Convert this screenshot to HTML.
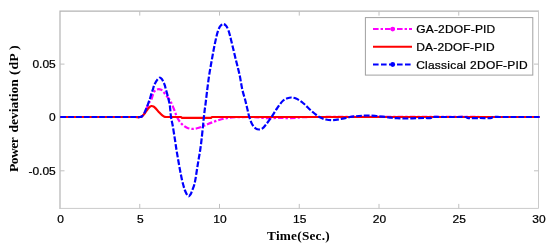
<!DOCTYPE html>
<html><head><meta charset="utf-8"><title>Power deviation</title>
<style>
html,body{margin:0;padding:0;background:#fff;}
body{width:550px;height:249px;overflow:hidden;}
svg{display:block;}
.tk{font-family:"Liberation Sans",Arial,sans-serif;font-size:12px;fill:#000;stroke:#000;stroke-width:0.25px;}
.lg{font-size:12px;letter-spacing:0.18px;}
.lb{font-family:"Liberation Serif","Times New Roman",serif;font-weight:bold;font-size:13.7px;fill:#000;}
</style></head><body>
<svg width="550" height="249" viewBox="0 0 550 249">
<rect width="550" height="249" fill="#fff"/>
<g stroke="#b4b4b4" stroke-width="1.2" fill="none">
<path d="M60.0 208.9 V11.1 H539.0"/>
<path d="M60.0 208.4 H538.5 V11.1" stroke-width="1" stroke="#cacaca"/>
<g stroke-width="1" stroke="#c0c0c0"><line x1="139.75" y1="208.40" x2="139.75" y2="203.90"/><line x1="139.75" y1="11.10" x2="139.75" y2="15.60"/><line x1="219.50" y1="208.40" x2="219.50" y2="203.90"/><line x1="219.50" y1="11.10" x2="219.50" y2="15.60"/><line x1="299.25" y1="208.40" x2="299.25" y2="203.90"/><line x1="299.25" y1="11.10" x2="299.25" y2="15.60"/><line x1="379.00" y1="208.40" x2="379.00" y2="203.90"/><line x1="379.00" y1="11.10" x2="379.00" y2="15.60"/><line x1="458.75" y1="208.40" x2="458.75" y2="203.90"/><line x1="458.75" y1="11.10" x2="458.75" y2="15.60"/><line x1="60.00" y1="64.10" x2="64.50" y2="64.10"/><line x1="538.50" y1="64.10" x2="534.00" y2="64.10"/><line x1="60.00" y1="117.40" x2="64.50" y2="117.40"/><line x1="538.50" y1="117.40" x2="534.00" y2="117.40"/><line x1="60.00" y1="170.80" x2="64.50" y2="170.80"/><line x1="538.50" y1="170.80" x2="534.00" y2="170.80"/></g>
</g>
<g fill="none" stroke-width="2.2" stroke-linejoin="round">
<path d="M60.30 117.00 C73.53 117.00 87.18 117.00 100.00 117.00 C112.03 117.00 128.60 117.00 135.00 117.00 C137.42 117.00 138.82 117.12 140.00 117.00 C140.65 116.94 140.99 116.99 141.50 116.70 C142.30 116.25 143.36 115.00 144.00 114.00 C144.62 113.03 144.82 111.89 145.30 110.80 C145.81 109.63 146.42 108.46 147.00 107.20 C147.64 105.81 148.24 104.09 149.00 102.80 C149.66 101.67 150.59 100.96 151.20 99.80 C151.90 98.47 152.30 96.59 152.80 95.20 C153.22 94.03 153.43 92.91 154.00 92.00 C154.52 91.16 155.21 90.37 156.00 89.90 C156.78 89.44 157.82 89.21 158.70 89.20 C159.55 89.19 160.48 89.44 161.20 89.80 C161.87 90.13 162.30 90.58 162.90 91.20 C163.76 92.09 164.81 93.67 165.70 94.80 C166.50 95.82 167.26 96.74 168.00 97.70 C168.72 98.64 169.51 99.54 170.10 100.50 C170.66 101.41 170.97 102.14 171.50 103.30 C172.34 105.13 173.56 108.16 174.50 110.50 C175.39 112.72 176.03 115.01 177.00 117.00 C177.89 118.82 178.92 120.57 180.00 122.00 C180.94 123.24 181.86 124.25 183.00 125.20 C184.19 126.19 185.53 127.19 187.00 127.80 C188.52 128.44 190.33 128.82 192.00 128.90 C193.66 128.98 195.28 128.70 197.00 128.30 C198.93 127.85 201.10 126.95 203.00 126.20 C204.76 125.51 206.31 124.70 208.00 124.00 C209.71 123.30 211.41 122.65 213.20 122.00 C215.07 121.32 217.04 120.58 219.00 120.00 C220.97 119.42 222.91 118.91 225.00 118.50 C227.23 118.06 229.58 117.73 232.00 117.50 C234.57 117.25 237.18 117.18 240.00 117.10 C243.15 117.01 246.85 116.96 250.00 117.00 C252.82 117.04 255.80 117.09 258.00 117.30 C259.57 117.45 260.18 117.76 262.00 117.90 C265.84 118.20 274.18 118.00 280.00 118.00 C285.49 118.00 291.95 118.15 296.00 117.90 C298.49 117.75 299.46 117.36 302.00 117.20 C306.39 116.92 310.67 117.05 320.00 117.00 C352.58 116.82 466.33 117.00 539.50 117.00" stroke="#ff00ff" stroke-dasharray="5.6 2 2.4 2" stroke-dashoffset="6.8"/>
<path d="M60.30 117.00 C73.53 117.00 87.18 117.00 100.00 117.00 C112.03 117.00 128.60 117.00 135.00 117.00 C137.42 117.00 138.82 117.12 140.00 117.00 C140.65 116.94 140.98 116.97 141.50 116.70 C142.28 116.29 143.14 115.28 144.00 114.30 C145.12 113.01 146.40 110.86 147.50 109.50 C148.37 108.42 149.20 107.28 150.00 106.70 C150.55 106.30 151.04 106.04 151.60 106.00 C152.20 105.95 152.86 106.16 153.50 106.50 C154.33 106.94 155.16 107.85 156.00 108.70 C156.99 109.70 157.98 111.10 159.00 112.20 C159.98 113.26 161.06 114.44 162.00 115.20 C162.70 115.77 163.36 116.19 164.00 116.50 C164.52 116.75 165.00 116.83 165.50 117.00 L181 117 L182 117.9 L211 117.9 L212 117 L539.5 117" stroke="#ff0000"/>
<path d="M60.30 117.00 C73.53 117.00 87.18 117.00 100.00 117.00 C112.03 117.00 128.60 117.00 135.00 117.00 C137.42 117.00 138.82 117.12 140.00 117.00 C140.65 116.94 140.99 116.99 141.50 116.70 C142.30 116.25 143.36 115.00 144.00 114.00 C144.62 113.03 144.83 111.91 145.30 110.80 C145.82 109.58 146.46 108.37 147.00 107.00 C147.60 105.46 148.16 103.52 148.70 102.00 C149.15 100.73 149.60 99.72 150.00 98.50 C150.43 97.19 150.76 95.82 151.20 94.40 C151.68 92.86 152.27 91.20 152.80 89.60 C153.33 88.00 153.79 86.25 154.40 84.80 C154.94 83.52 155.53 82.35 156.20 81.30 C156.81 80.34 157.50 79.34 158.20 78.70 C158.75 78.20 159.34 77.59 159.90 77.60 C160.47 77.61 161.08 78.23 161.60 78.80 C162.29 79.56 162.86 80.89 163.40 82.00 C163.96 83.15 164.50 84.38 164.90 85.60 C165.29 86.79 165.45 87.89 165.80 89.20 C166.22 90.78 166.82 92.59 167.30 94.40 C167.82 96.35 168.38 98.75 168.80 100.50 C169.11 101.83 169.37 102.67 169.60 104.00 C169.90 105.73 170.07 107.92 170.30 110.00 C170.54 112.24 170.64 114.60 171.00 117.00 C171.39 119.59 172.04 121.91 172.60 125.00 C173.36 129.21 174.30 135.50 175.00 140.00 C175.57 143.67 175.97 146.67 176.50 150.00 C177.03 153.34 177.62 156.67 178.20 160.00 C178.78 163.33 179.37 166.67 180.00 170.00 C180.63 173.34 181.37 177.25 182.00 180.00 C182.45 181.96 182.83 183.34 183.30 185.00 C183.77 186.67 184.20 188.42 184.80 190.00 C185.37 191.51 186.04 193.18 186.80 194.30 C187.38 195.15 188.07 196.30 188.70 196.30 C189.33 196.30 190.04 195.16 190.60 194.30 C191.33 193.19 191.82 191.50 192.40 190.00 C193.02 188.40 193.71 186.68 194.20 185.00 C194.68 183.35 194.93 181.96 195.30 180.00 C195.82 177.24 196.37 173.33 196.90 170.00 C197.43 166.67 197.95 163.33 198.50 160.00 C199.05 156.67 199.70 153.34 200.20 150.00 C200.70 146.67 201.07 143.67 201.50 140.00 C202.03 135.51 202.66 129.22 203.10 125.00 C203.42 121.92 203.62 119.58 203.90 117.00 C204.16 114.59 204.43 112.14 204.70 110.00 C204.93 108.19 205.13 107.11 205.40 105.00 C205.88 101.34 206.57 95.00 207.20 90.00 C207.83 85.00 208.43 79.99 209.20 75.00 C209.97 69.99 210.90 65.00 211.80 60.00 C212.70 55.00 213.52 49.98 214.60 45.00 C215.69 39.98 216.93 33.48 218.30 30.00 C219.09 27.99 219.81 26.52 220.80 25.50 C221.54 24.73 222.47 24.00 223.30 24.00 C224.13 24.00 225.06 24.73 225.80 25.50 C226.79 26.52 227.49 28.00 228.30 30.00 C229.71 33.48 231.03 39.99 232.30 45.00 C233.56 49.99 234.68 55.00 235.90 60.00 C237.12 65.00 238.51 69.98 239.60 75.00 C240.68 79.98 241.36 85.53 242.40 90.00 C243.26 93.69 244.48 97.23 245.20 100.00 C245.71 101.95 246.00 103.33 246.40 105.00 C246.80 106.67 247.16 108.19 247.60 110.00 C248.12 112.14 248.58 114.69 249.30 117.00 C250.04 119.36 250.85 122.02 252.00 124.00 C252.99 125.70 254.19 127.39 255.50 128.30 C256.57 129.05 257.83 129.50 259.00 129.50 C260.17 129.50 261.42 129.01 262.50 128.30 C263.78 127.46 264.75 126.02 266.00 124.50 C267.68 122.46 269.70 119.61 271.50 117.00 C273.37 114.28 275.05 111.25 277.00 108.50 C278.95 105.75 281.13 102.24 283.20 100.50 C284.63 99.29 286.08 98.70 287.50 98.20 C288.75 97.76 289.89 97.49 291.20 97.50 C292.70 97.51 294.32 97.81 296.00 98.50 C298.19 99.40 300.67 101.18 303.00 103.00 C305.67 105.08 308.24 108.15 311.00 110.50 C313.71 112.81 316.66 115.46 319.40 117.00 C321.64 118.25 323.73 118.97 326.00 119.50 C328.26 120.03 330.59 120.26 333.00 120.20 C335.58 120.14 338.26 119.51 341.00 119.00 C343.92 118.46 346.99 117.50 350.00 117.00 C352.99 116.50 356.09 116.25 359.00 116.00 C361.74 115.76 364.25 115.51 367.00 115.50 C369.91 115.49 372.92 115.76 376.00 116.00 C379.25 116.25 383.24 116.67 386.00 117.00 C387.96 117.23 389.25 117.51 391.00 117.70 C392.91 117.91 394.80 118.07 397.00 118.20 C399.70 118.36 402.92 118.49 406.00 118.50 C409.25 118.51 412.75 118.28 416.00 118.20 C419.08 118.12 422.30 118.05 425.00 118.00 C427.20 117.96 429.87 118.27 431.00 117.90 C431.51 117.73 431.65 117.35 432.00 117.20 C432.32 117.06 432.51 117.05 433.00 117.00 C434.28 116.87 437.23 117.00 440.00 117.00 C444.06 117.00 450.44 117.00 455.00 117.00 C458.81 117.00 463.85 116.84 465.50 117.00 C466.01 117.05 466.18 117.06 466.50 117.20 C466.85 117.35 466.94 117.72 467.50 117.90 C469.30 118.48 475.92 118.00 480.00 118.00 C483.91 118.00 489.79 118.45 491.50 117.90 C492.06 117.72 492.15 117.35 492.50 117.20 C492.82 117.06 493.02 117.05 493.50 117.00 C494.72 116.88 497.24 117.00 500.00 117.00 C504.84 117.00 513.38 117.00 520.00 117.00 C526.54 117.00 533.00 117.00 539.50 117.00" stroke="#0000ff" stroke-dasharray="5.85 1.92"/>
</g>
<g class="tk" transform="scale(1 0.93)"><text x="60.50" y="239.35" text-anchor="middle">0</text><text x="140.25" y="239.35" text-anchor="middle">5</text><text x="220.00" y="239.35" text-anchor="middle">10</text><text x="299.75" y="239.35" text-anchor="middle">15</text><text x="379.50" y="239.35" text-anchor="middle">20</text><text x="459.25" y="239.35" text-anchor="middle">25</text><text x="539.00" y="239.35" text-anchor="middle">30</text><text x="55.8" y="73.12" text-anchor="end">0.05</text><text x="55.8" y="130.43" text-anchor="end">0</text><text x="55.8" y="187.85" text-anchor="end">-0.05</text></g>
<text class="lb" transform="translate(298.5 239.9) scale(1 0.9)" text-anchor="middle" style="font-size:13.3px;letter-spacing:0.22px">Time(Sec.)</text>
<g class="lb" transform="translate(17.9 0) rotate(-90) scale(1 0.9)" style="font-size:13.9px">
<text x="-172.1" y="0" style="font-size:13.6px;letter-spacing:-0.5px">Power</text>
<text x="-132.5" y="0" style="font-size:13.6px;letter-spacing:-0.03px">deviation</text>
<text x="-74.9" y="0">(</text>
<text x="-69.5" y="0">dP</text>
<text x="-49.9" y="0">)</text>
</g>
<g>
<rect x="365.4" y="17.6" width="167.4" height="57.5" fill="#fff" stroke="#a0a0a0" stroke-width="1"/>
<g fill="none" stroke-width="2">
<line x1="373" y1="29.1" x2="412" y2="29.1" stroke="#ff00ff" stroke-dasharray="5.6 2 2.4 2"/>
<line x1="373" y1="46.7" x2="412" y2="46.7" stroke="#ff0000"/>
<line x1="373" y1="64.5" x2="412" y2="64.5" stroke="#0000ff" stroke-dasharray="5.6 2.4"/>
</g>
<circle cx="392.7" cy="29.1" r="2.4" fill="#ff00ff"/>
<circle cx="392.7" cy="64.5" r="2.4" fill="#0000ff"/>
<g class="tk lg" transform="scale(1 0.93)">
<text x="416.2" y="35.16">GA-2DOF-PID</text>
<text x="416.2" y="54.52">DA-2DOF-PID</text>
<text x="416.2" y="73.66" style="word-spacing:0.3px;letter-spacing:0.23px">Classical 2DOF-PID</text>
</g>
</g>
</svg>
</body></html>
